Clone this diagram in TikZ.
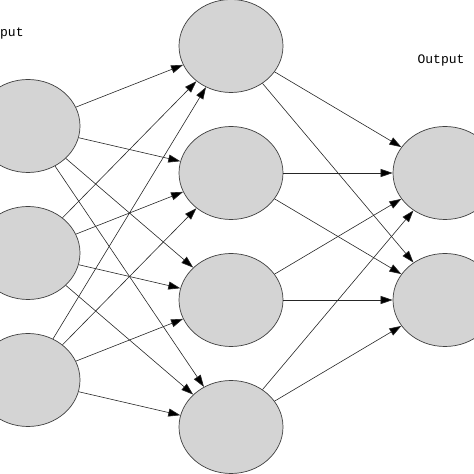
\documentclass[tikz,border=0pt]{standalone}
\usepackage{fontspec}
\setmonofont{Liberation Mono}
\usetikzlibrary{shapes.geometric, arrows.meta}

\begin{document}
\begin{tikzpicture}[x=1pt, y=1pt,
    neuron/.style={ellipse, draw=black!75, fill=black!17, line width=0.7pt,
        minimum width=104pt, minimum height=93pt, inner sep=0pt},
    link/.style={draw=black!85, line width=0.6pt,
        -{Triangle[length=12pt, width=8pt, fill=black]}},
    label/.style={font=\ttfamily\fontsize{13}{15}\selectfont, inner sep=0pt}]
    \useasboundingbox (0,0) rectangle (474,474);
    \clip (0,0) rectangle (474,474);
    % Capas
    \foreach \i/\y in {1/348, 2/221, 3/94}
        \node[neuron] (in\i) at (28,\y) {};
    \foreach \i/\y in {1/428, 2/301, 3/174, 4/47}
        \node[neuron] (hid\i) at (231,\y) {};
    \foreach \i/\y in {1/301, 2/174}
        \node[neuron] (out\i) at (445,\y) {};
    % Conexiones
    \foreach \i in {1,2,3}
        \foreach \j in {1,2,3,4}
            \draw[link] (in\i) -- (hid\j);
    \foreach \j in {1,2,3,4}
        \foreach \k in {1,2}
            \draw[link] (hid\j) -- (out\k);
    % Etiquetas
    \node[label, anchor=west] (inlabel) at (0,440) {put};
    \node[label] (outlabel) at (441,413) {Output};
\end{tikzpicture}
\end{document}
